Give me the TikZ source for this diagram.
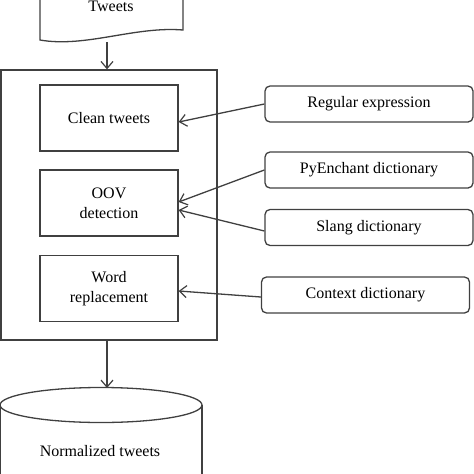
\documentclass[tikz,border=0pt]{standalone}
\usepackage{fontspec}
\setmainfont{Liberation Serif}
\usetikzlibrary{arrows.meta}
\begin{document}
\begin{tikzpicture}[x=1pt,y=-1pt,
  line/.style={draw=black!75, line width=1.3pt},
  txt/.style={font=\fontsize{16}{20}\selectfont, text=black},
  proc/.style={line, txt, minimum width=138pt, minimum height=66pt, align=center, inner sep=0pt},
  src/.style={line, txt, rounded corners=5pt, minimum width=208pt, minimum height=36pt, inner sep=0pt},
  arr/.style={line, -{Straight Barb[length=7pt,width=12pt,line width=1.2pt]}}]
\useasboundingbox (0,0) rectangle (474,474);
\clip (0,0) rectangle (474,474);
% Tweets document
\draw[line] (40,-5) -- (40,40) .. controls (85,48) and (135,26) .. (183,30) -- (183,-5);
\node[txt] (tweets) at (111,6) {Tweets};
\coordinate (twb) at (107,42);
% outer box
\node[line, minimum width=216pt, minimum height=270pt, inner sep=0pt] (outer) at (109,205) {};
% process boxes
\node[proc] (clean) at (109,118) {Clean tweets};
\node[proc] (oov) at (109,203) {OOV\\detection};
\node[proc] (word) at (109,288.5) {Word\\replacement};
% sources
\node[src] (regex) at (369,104) {Regular expression};
\node[src] (pyen) at (369,170) {PyEnchant dictionary};
\node[src] (slang) at (369,227.5) {Slang dictionary};
\node[src] (ctx) at (365.5,295) {Context dictionary};
% cylinder
\draw[line] (0,405) -- (0,480);
\draw[line] (202,405) -- (202,480);
\draw[line] (101,405) ellipse [x radius=101, y radius=17.5];
\node[txt] (norm) at (100,451) {Normalized tweets};
\coordinate (cyltop) at (107,388);
% arrows
\draw[arr] (twb) -- (twb |- outer.north);
\draw[arr] (twb |- outer.south) -- (cyltop);
\draw[arr] (regex.west) -- ([yshift=-4pt]clean.east);
\draw[arr] (pyen.west) -- ([yshift=1pt]oov.east);
\draw[arr] ([yshift=-3.5pt]slang.west) -- ([yshift=-7pt]oov.east);
\draw[arr] ([yshift=-2pt]ctx.west) -- ([yshift=-2.5pt]word.east);
\end{tikzpicture}
\end{document}
